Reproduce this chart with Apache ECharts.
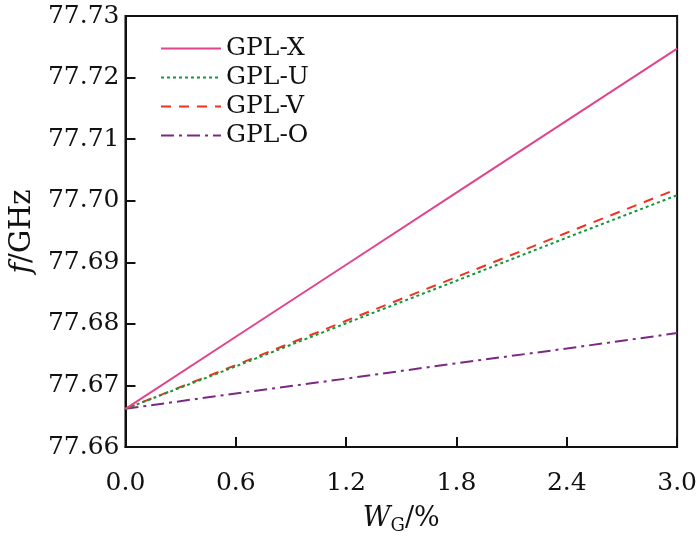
<!DOCTYPE html>
<html><head><meta charset="utf-8">
<script src="https://cdn.jsdelivr.net/npm/echarts@6/dist/echarts.min.js"></script>
<style>html,body{margin:0;padding:0;background:#fff}#c{width:700px;height:541px}</style>
</head><body><div id="c"></div>
<script>
const xValues = [0.0, 0.6, 1.2, 1.8, 2.4, 3.0];
const gplX = [77.6662, 77.6779, 77.6896, 77.7013, 77.7130, 77.7247];
const gplU = [77.6662, 77.6731, 77.6801, 77.6870, 77.6940, 77.7009];
const gplV = [77.6662, 77.6733, 77.6805, 77.6876, 77.6948, 77.7019];
const gplO = [77.6662, 77.6687, 77.6711, 77.6736, 77.6760, 77.6785];
const seriesNames = ['GPL-X', 'GPL-U', 'GPL-V', 'GPL-O'];

const FONT = 'DejaVu Serif';
const pair = arr => xValues.map((x, i) => [x, arr[i]]);
const styles = [
  {color: '#e2448c', type: 'solid'},
  {color: '#12983c', type: [3, 3]},
  {color: '#f0321e', type: [10, 8]},
  {color: '#7b2a82', type: [13, 5, 3, 5]}
];
const datas = [gplX, gplU, gplV, gplO];

const chart = echarts.init(document.getElementById('c'));
chart.setOption({
  animation: false,
  backgroundColor: '#fff',
  grid: {left: 118, right: 21, top: 16, bottom: 94, show: true, borderColor: '#111', borderWidth: 2, backgroundColor: 'transparent'},
  legend: {
    left: 155, top: 31, orient: 'vertical', itemWidth: 60, itemHeight: 10, itemGap: 4,
    data: seriesNames,
    itemStyle: {opacity: 0},
    textStyle: {fontFamily: FONT, fontSize: 25, lineHeight: 22, color: '#111', padding: [0, 0, 0, 0]}
  },
  xAxis: {
    type: 'value', min: 0, max: 3, interval: 0.6,
    axisLine: {lineStyle: {color: '#111', width: 2}},
    axisTick: {inside: true, length: 10, lineStyle: {color: '#111', width: 2}},
    splitLine: {show: false},
    axisLabel: {fontFamily: FONT, fontSize: 25, color: '#111', margin: 24, formatter: v => v.toFixed(1)},
    name: '{i|W}{s|G}{n|/%}', nameLocation: 'middle', nameGap: 55,
    nameTextStyle: {rich: {
      i: {fontFamily: FONT, fontStyle: 'italic', fontSize: 27, color: '#111'},
      s: {fontFamily: FONT, fontSize: 18, color: '#111', verticalAlign: 'bottom', padding: [15, 0, 0, 0]},
      n: {fontFamily: FONT, fontSize: 27, color: '#111'}
    }}
  },
  yAxis: {
    type: 'value', min: 77.66, max: 77.73, interval: 0.01,
    axisLine: {lineStyle: {color: '#111', width: 2}},
    axisTick: {inside: true, length: 10, lineStyle: {color: '#111', width: 2}},
    splitLine: {show: false},
    axisLabel: {fontFamily: FONT, fontSize: 25, color: '#111', margin: 6, formatter: v => v.toFixed(2)},
    name: '{i|f}{n|/GHz}', nameLocation: 'middle', nameGap: 82, nameRotate: 90,
    nameTextStyle: {rich: {
      i: {fontFamily: FONT, fontStyle: 'italic', fontSize: 29, color: '#111'},
      n: {fontFamily: FONT, fontSize: 29, color: '#111'}
    }}
  },
  series: seriesNames.map((n, k) => ({
    name: n, type: 'line', data: pair(datas[k]), showSymbol: false, symbol: 'none',
    itemStyle: {color: styles[k].color},
    lineStyle: {color: styles[k].color, width: 2, type: styles[k].type},
    z: 10 - k
  }))
});
</script></body></html>
